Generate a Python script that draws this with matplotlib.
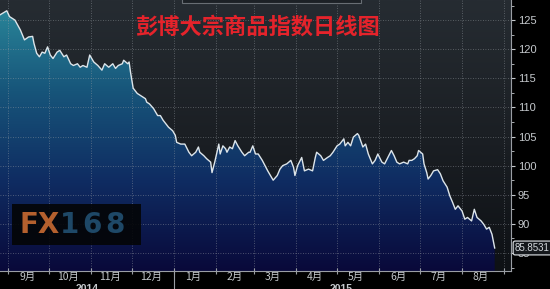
import matplotlib
matplotlib.use('Agg')
import matplotlib.pyplot as plt
import matplotlib.dates as mdates
import matplotlib.ticker as mticker
import matplotlib.transforms as mtransforms
from matplotlib.colors import LinearSegmentedColormap
from matplotlib.patches import Rectangle
import numpy as np
import pandas as pd

# Bloomberg commodity index, daily close
dates = ['2014-08-26', '2014-08-31', '2014-09-02', '2014-09-06', '2014-09-10', '2014-09-13',
         '2014-09-16', '2014-09-19', '2014-09-20', '2014-09-22', '2014-09-24', '2014-09-26',
         '2014-09-28', '2014-09-30', '2014-10-02', '2014-10-04', '2014-10-07', '2014-10-09',
         '2014-10-12', '2014-10-14', '2014-10-17', '2014-10-19', '2014-10-22', '2014-10-24',
         '2014-10-26', '2014-10-29', '2014-10-31', '2014-11-03', '2014-11-06', '2014-11-09',
         '2014-11-11', '2014-11-14', '2014-11-17', '2014-11-19', '2014-11-21', '2014-11-24',
         '2014-11-25', '2014-11-28', '2014-11-29', '2014-11-30', '2014-12-01', '2014-12-02',
         '2014-12-05', '2014-12-07', '2014-12-09', '2014-12-11', '2014-12-12', '2014-12-14',
         '2014-12-17', '2014-12-20', '2014-12-22', '2014-12-24', '2014-12-26', '2014-12-28',
         '2014-12-31', '2015-01-02', '2015-01-03', '2015-01-06', '2015-01-09', '2015-01-12',
         '2015-01-14', '2015-01-17', '2015-01-19', '2015-01-20', '2015-01-23', '2015-01-25',
         '2015-01-28', '2015-01-29', '2015-01-31', '2015-02-03', '2015-02-04', '2015-02-06',
         '2015-02-08', '2015-02-09', '2015-02-11', '2015-02-13', '2015-02-15', '2015-02-17',
         '2015-02-20', '2015-02-22', '2015-02-25', '2015-02-26', '2015-02-28', '2015-03-02',
         '2015-03-04', '2015-03-07', '2015-03-11', '2015-03-13', '2015-03-15', '2015-03-18',
         '2015-03-20', '2015-03-22', '2015-03-25', '2015-03-28', '2015-03-30', '2015-03-31',
         '2015-04-02', '2015-04-05', '2015-04-07', '2015-04-10', '2015-04-13', '2015-04-15',
         '2015-04-16', '2015-04-19', '2015-04-21', '2015-04-24', '2015-04-26', '2015-04-28',
         '2015-05-01', '2015-05-03', '2015-05-06', '2015-05-07', '2015-05-09', '2015-05-11',
         '2015-05-13', '2015-05-16', '2015-05-17', '2015-05-20', '2015-05-22', '2015-05-24',
         '2015-05-27', '2015-05-29', '2015-05-31', '2015-06-03', '2015-06-05', '2015-06-08',
         '2015-06-10', '2015-06-12', '2015-06-14', '2015-06-16', '2015-06-19', '2015-06-22',
         '2015-06-23', '2015-06-25', '2015-06-27', '2015-06-29', '2015-06-30', '2015-07-03',
         '2015-07-04', '2015-07-06', '2015-07-07', '2015-07-09', '2015-07-11', '2015-07-14',
         '2015-07-16', '2015-07-18', '2015-07-21', '2015-07-23', '2015-07-25', '2015-07-27',
         '2015-07-29', '2015-08-01', '2015-08-03', '2015-08-05', '2015-08-08', '2015-08-10',
         '2015-08-12', '2015-08-15', '2015-08-17', '2015-08-19', '2015-08-21', '2015-08-23',
         '2015-08-25']
values = [125.9, 126.6, 125.6, 125.0, 123.3, 121.6,
          122.1, 122.2, 121.0, 119.3, 118.7, 119.5,
          119.3, 120.4, 119.0, 118.4, 119.5, 119.8,
          118.7, 119.0, 117.5, 117.2, 117.5, 116.9,
          117.2, 116.9, 119.0, 117.8, 117.2, 116.4,
          117.5, 116.9, 117.5, 116.7, 117.2, 117.5,
          118.1, 117.5, 117.8, 116.1, 114.7, 113.3,
          112.4, 112.1, 111.8, 111.5, 110.9, 110.6,
          109.8, 108.6, 108.6, 107.8, 107.2, 106.6,
          106.0, 105.2, 104.0, 103.7, 103.7, 102.3,
          101.7, 102.3, 103.2, 102.3, 101.7, 101.2,
          100.6, 98.8, 100.6, 103.7, 102.0, 103.4,
          102.9, 102.3, 103.2, 102.9, 104.3, 103.4,
          102.3, 101.7, 102.3, 102.3, 103.4, 102.0,
          102.0, 100.9, 99.1, 98.3, 97.5, 98.3,
          99.4, 100.0, 100.3, 100.9, 99.7, 98.3,
          100.0, 101.4, 99.1, 99.4, 99.1, 101.4,
          102.3, 101.7, 100.9, 101.4, 101.7, 102.3,
          103.4, 103.7, 104.6, 103.4, 104.0, 103.4,
          104.9, 105.5, 105.2, 103.2, 103.7, 102.0,
          100.3, 100.9, 102.0, 100.6, 100.3, 101.7,
          102.6, 101.7, 100.6, 100.3, 100.6, 100.3,
          100.9, 100.9, 101.2, 101.7, 102.6, 102.0,
          100.3, 98.8, 97.7, 98.3, 99.1, 99.3,
          98.6, 97.4, 96.3, 94.8, 93.7, 92.5,
          93.1, 92.2, 90.8, 91.1, 90.5, 92.5,
          91.1, 90.5, 89.9, 89.1, 89.4, 88.2,
          85.8531]

month_names = ['8月', '9月', '10月', '11月', '12月', '1月', '2月', '3月', '4月', '5月', '6月', '7月', '8月', '9月']
years = ['2014', '2015']
year_pos = ['2014-10-29', '2015-05-04']
yticks = [85, 90, 95, 100, 105, 110, 115, 120, 125]
title = '彭博大宗商品指数日线图'
last_label = '85.8531'

plt.rcParams['font.family'] = ['Noto Sans CJK SC', 'DejaVu Sans']

fig = plt.figure(figsize=(5.5, 2.89), dpi=100, facecolor='black')
ax = fig.add_axes([0, 18 / 289, 511 / 550, 271 / 289])

x = mdates.date2num(pd.to_datetime(dates))
x0, x1 = x[0], mdates.date2num(pd.Timestamp('2015-09-06'))
y0, y1 = 81.9, 128.45
ax.set_xlim(x0, x1)
ax.set_ylim(y0, y1)

# dark background
bg = LinearSegmentedColormap.from_list('bg', ['#0e1115', '#1b1f24', '#262c32'])
ax.imshow(np.linspace(0, 1, 256).reshape(-1, 1), cmap=bg, aspect='auto',
          extent=[x0, x1, y0, y1], origin='lower', zorder=0)

# gradient fill under the line
fc = LinearSegmentedColormap.from_list('fill', ['#09093a', '#0f2c62', '#17557a', '#2b8a9c'])
im = ax.imshow(np.linspace(0, 1, 256).reshape(-1, 1), cmap=fc, aspect='auto',
               extent=[x0, x1, y0, y1], origin='lower', zorder=1)
poly = ax.fill_between(x, values, y0, facecolor='none', edgecolor='none')
im.set_clip_path(poly.get_paths()[0], transform=ax.transData)

ax.plot(x, values, color='#dde5ea', lw=1.0, zorder=3)

# axes / ticks
ax.xaxis.set_major_locator(mdates.MonthLocator())
ax.xaxis.set_major_formatter(mticker.NullFormatter())
ax.xaxis.set_minor_locator(mdates.MonthLocator(bymonthday=15))
ax.xaxis.set_minor_formatter(mticker.FuncFormatter(
    lambda v, p: month_names[(mdates.num2date(v).month - 8) % 12]))
ax.tick_params(axis='x', which='major', direction='inout', length=4, color='#9a9ea4')
ax.tick_params(axis='x', which='minor', length=0, pad=1, labelsize=7.5, labelcolor='#c4c8cc')

ax.yaxis.tick_right()
ax.set_yticks(yticks)
ax.yaxis.set_minor_locator(mticker.MultipleLocator(2.5))
ax.tick_params(axis='y', which='major', direction='out', length=3, pad=2,
               color='#c4c8cc', labelsize=8, labelcolor='#c4c8cc')
ax.tick_params(axis='y', which='minor', direction='out', length=2, color='#c4c8cc')
for lab in ax.get_yticklabels():
    lab.set_family('Liberation Sans')

ax.grid(True, which='major', color='#9aa0a6', ls=(0, (1, 2)), lw=0.6, alpha=0.6)
for s in ['left', 'top']:
    ax.spines[s].set_visible(False)
for s in ['bottom', 'right']:
    ax.spines[s].set_color('#9a9ea4')
    ax.spines[s].set_linewidth(0.8)

# year separator and year labels
trans = mtransforms.blended_transform_factory(ax.transData, ax.transAxes)
jan1 = mdates.date2num(pd.Timestamp('2015-01-01'))
ax.plot([jan1, jan1], [0, -0.07], transform=trans, color='#9a9ea4', lw=0.8, clip_on=False)
for yr, pos in zip(years, year_pos):
    ax.text(mdates.date2num(pd.Timestamp(pos)), -0.047, yr, transform=trans, ha='center',
            va='top', fontsize=7.5, color='#c4c8cc', family='Liberation Sans', weight='bold')

# last value label
ax.text(1.008, values[-1], last_label, transform=ax.get_yaxis_transform(), ha='left', va='center',
        fontsize=7, color='#d4d8dc', family='Liberation Sans', zorder=5,
        bbox=dict(boxstyle='round,pad=0.2', fc='#15181c', ec='#e4e8ec', lw=0.8))

# title
fig.text(258 / 550, 1 - 27 / 289, title, ha='center', va='center', fontsize=16,
         color='#e5232b', weight='bold')

# box peeking at the top
fig.patches.append(Rectangle((182 / 550, 1 - 3 / 289), 179 / 550, 10 / 289, transform=fig.transFigure,
                             fc='#1c2126', ec='#686e74', lw=0.8, zorder=4))

# FX168 logo
fig.patches.append(Rectangle((12 / 550, 1 - 245 / 289), 129 / 550, 41 / 289, transform=fig.transFigure,
                             fc='#040506', ec='none', alpha=0.9, zorder=4))
fig.text(20 / 550, 1 - 225 / 289, 'FX', ha='left', va='center', fontsize=20, weight='bold',
         color='#b4602e', family='DejaVu Sans', zorder=5)
for ch, px in zip('168', [70, 92, 115]):
    fig.text(px / 550, 1 - 225 / 289, ch, ha='center', va='center', fontsize=20, weight='bold',
             color='#1e4867', family='DejaVu Sans', zorder=5)

fig.savefig('out.png', dpi=100, facecolor='black')
